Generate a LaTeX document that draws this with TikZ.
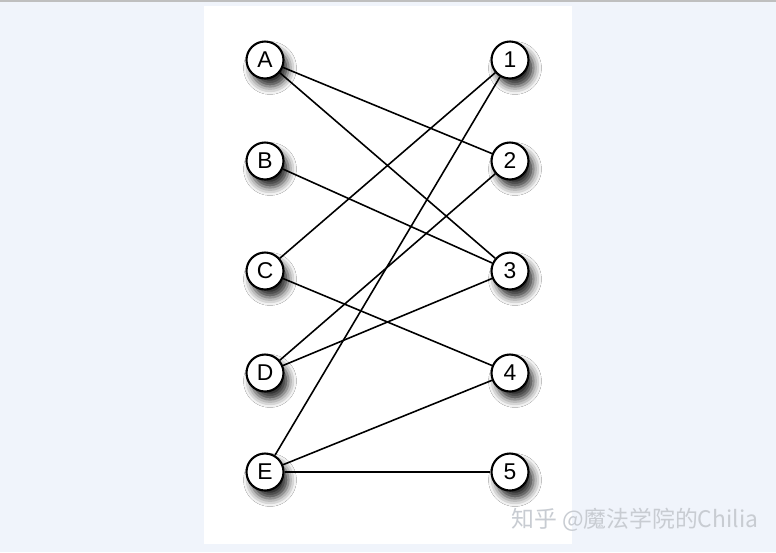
\documentclass[tikz,border=0pt]{standalone}
\usepackage{fontspec}
\setmainfont{Liberation Sans}
\newfontfamily\cjk{Noto Sans CJK SC}
\usetikzlibrary{shadows.blur}
\definecolor{pagebg}{HTML}{F0F4FB}
\definecolor{markgray}{HTML}{C8CCD2}
\tikzset{
  vert/.style={circle, draw, line width=1.2pt, fill=white, minimum size=0.74cm, inner sep=0pt,
    font=\fontsize{13}{15}\selectfont,
    blur shadow={shadow xshift=0.1cm, shadow yshift=-0.16cm, shadow blur radius=0.16cm, shadow opacity=85}},
  edge/.style={line width=0.9pt}
}
\begin{document}
\begin{tikzpicture}[x=0.02cm, y=-0.02cm]
\useasboundingbox (0,0) rectangle (776,552);
\fill[pagebg] (0,0) rectangle (776,552);
\fill[gray!50] (0,0) rectangle (776,2);
\fill[white] (204,6) rectangle (572,544);

% left side
\node[vert] (a) at (265,60) {A};
\node[vert] (b) at (265,161) {B};
\node[vert] (c) at (265,271) {C};
\node[vert] (d) at (265,373) {D};
\node[vert] (e) at (265,472) {E};

% right side
\node[vert] (n1) at (510,60) {1};
\node[vert] (n2) at (510,161) {2};
\node[vert] (n3) at (510,271) {3};
\node[vert] (n4) at (510,373) {4};
\node[vert] (n5) at (510,472) {5};

\draw[edge] (a) -- (n2);
\draw[edge] (a) -- (n3);
\draw[edge] (b) -- (n3);
\draw[edge] (c) -- (n1);
\draw[edge] (c) -- (n4);
\draw[edge] (d) -- (n2);
\draw[edge] (d) -- (n3);
\draw[edge] (e) -- (n1);
\draw[edge] (e) -- (n4);
\draw[edge] (e) -- (n5);

\node[anchor=west, inner sep=0pt, text=markgray, font=\fontsize{13}{15}\selectfont] (mark) at (511,520) {\cjk 知乎\ @魔法学院的Chilia};
\end{tikzpicture}
\end{document}
